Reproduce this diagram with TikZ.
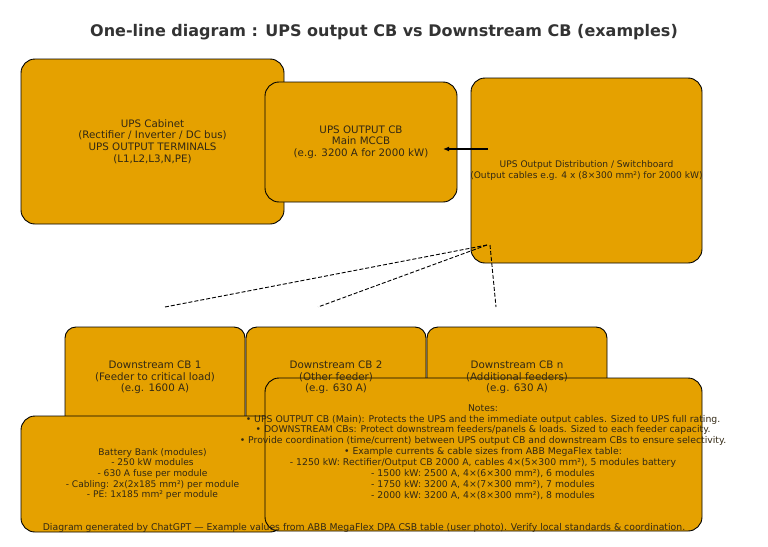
\documentclass[tikz,border=0pt]{standalone}
\usepackage{fontspec}
\setmainfont{DejaVu Sans}
\usetikzlibrary{arrows.meta}
\definecolor{boxfill}{RGB}{229,161,0}
\definecolor{inktxt}{RGB}{50,40,20}
\tikzset{
  box/.style={draw, line width=0.9pt, fill=boxfill, rounded corners=14pt, inner sep=0pt},
  boxtxt/.style={align=center, text=inktxt, font=\fontsize{10.3}{11.6}\selectfont},
  smalltxt/.style={align=center, text=inktxt, font=\fontsize{9.1}{10.6}\selectfont},
  notetxt/.style={align=center, text=inktxt, font=\fontsize{9.3}{10.9}\selectfont},
  feed/.style={dash pattern=on 4pt off 2pt, line width=0.9pt}
}
\begin{document}
\begin{tikzpicture}[x=1pt, y=-1pt]
  \useasboundingbox (0,0) rectangle (768,546);
  % Boxes
  \node[box, minimum width=263pt, minimum height=165pt] (cabinet) at (152.5,141.5) {};
  \node[box, minimum width=192pt, minimum height=120pt] (outcb) at (361,142) {};
  \node[box, minimum width=231pt, minimum height=185pt] (dist) at (586.5,170.5) {};
  \coordinate (arrfrom) at (488,149);
  \coordinate (arrto) at (443,149);
  \coordinate (tap) at (487,245);
  \coordinate (tapn) at (490,245);
  \coordinate (end1) at (165,307);
  \coordinate (end2) at (318,307);
  \coordinate (endn) at (496,307);
  % Edges
  \draw[-{Latex[length=6pt, width=5pt]}, line width=1.4pt] (arrfrom) -- (arrto);
  \draw[feed] (tap) -- (end1);
  \draw[feed] (tap) -- (end2);
  \draw[feed] (tapn) -- (endn);
  % Downstream boxes
  \node[box, rounded corners=11pt, minimum width=180pt, minimum height=101pt] (cb1) at (155,377.5) {};
  \node[box, rounded corners=11pt, minimum width=180pt, minimum height=101pt] (cb2) at (336,377.5) {};
  \node[box, rounded corners=11pt, minimum width=180pt, minimum height=101pt] (cbn) at (517,377.5) {};
  \node[box, minimum width=263pt, minimum height=116pt] (battery) at (152.5,474) {};
  \node[box, minimum width=437pt, minimum height=153pt] (notes) at (483.5,454.5) {};
  % Texts
  \node[font=\fontsize{16}{18}\selectfont\bfseries, text=black!80] (title) at (384,32) {One-line diagram : UPS output CB vs Downstream CB (examples)};
  \node[boxtxt] (cabinettxt) at (cabinet.center) {UPS Cabinet\\(Rectifier / Inverter / DC bus)\\UPS OUTPUT TERMINALS\\(L1,L2,L3,N,PE)};
  \node[boxtxt] (outcbtxt) at (outcb.center) {UPS OUTPUT CB\\Main MCCB\\(e.g. 3200 A for 2000 kW)};
  \node[smalltxt] (disttxt) at (dist.center) {UPS Output Distribution / Switchboard\\(Output cables e.g. 4 x (8×300 mm²) for 2000 kW)};
  \node[boxtxt] (cb1txt) at (cb1.center) {Downstream CB 1\\(Feeder to critical load)\\(e.g. 1600 A)};
  \node[boxtxt] (cb2txt) at (cb2.center) {Downstream CB 2\\(Other feeder)\\(e.g. 630 A)};
  \node[boxtxt] (cbntxt) at (cbn.center) {Downstream CB n\\(Additional feeders)\\(e.g. 630 A)};
  \node[smalltxt] (batterytxt) at (battery.center) {Battery Bank (modules)\\- 250 kW modules\\- 630 A fuse per module\\- Cabling: 2x(2x185 mm²) per module\\- PE: 1x185 mm² per module};
  \node[notetxt] (notestxt) at (483,452) {Notes:\\• UPS OUTPUT CB (Main): Protects the UPS and the immediate output cables. Sized to UPS full rating.\\• DOWNSTREAM CBs: Protect downstream feeders/panels \& loads. Sized to each feeder capacity.\\• Provide coordination (time/current) between UPS output CB and downstream CBs to ensure selectivity.\\• Example currents \& cable sizes from ABB MegaFlex table:\\- 1250 kW: Rectifier/Output CB 2000 A, cables 4×(5×300 mm²), 5 modules battery\\- 1500 kW: 2500 A, 4×(6×300 mm²), 6 modules\\- 1750 kW: 3200 A, 4×(7×300 mm²), 7 modules\\- 2000 kW: 3200 A, 4×(8×300 mm²), 8 modules};
  \node[notetxt] (footer) at (364,528) {Diagram generated by ChatGPT — Example values from ABB MegaFlex DPA CSB table (user photo). Verify local standards \& coordination.};
\end{tikzpicture}
\end{document}
